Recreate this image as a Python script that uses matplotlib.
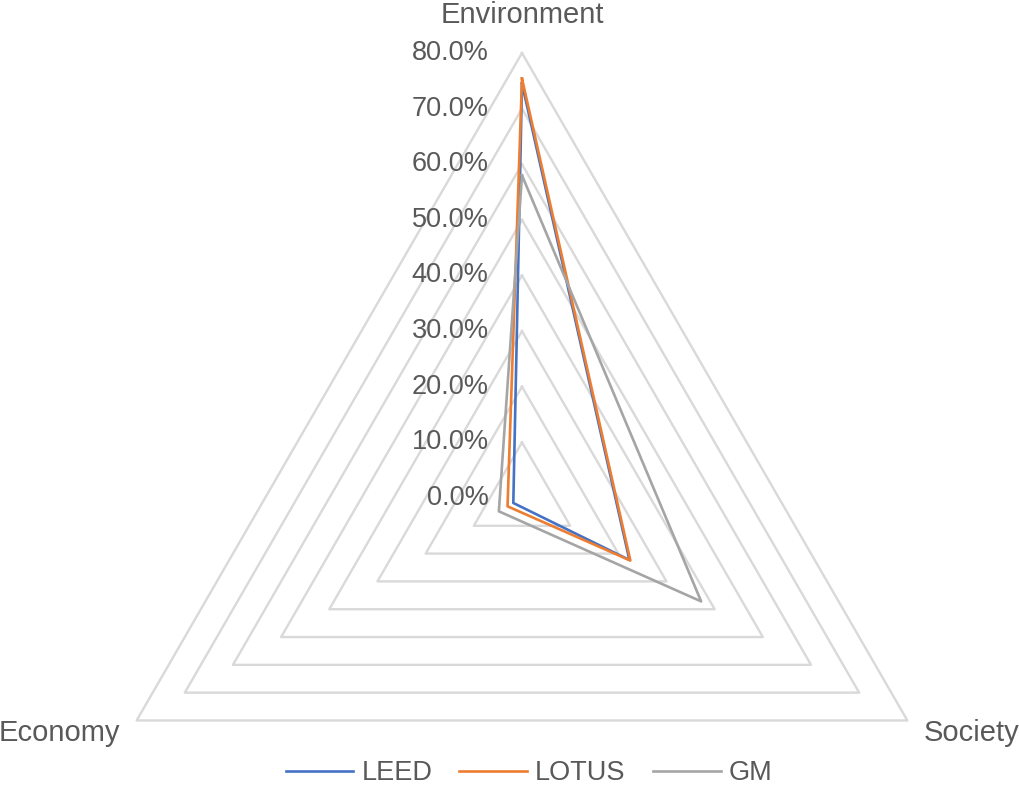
import numpy as np
import matplotlib
matplotlib.use('Agg')
import matplotlib.pyplot as plt

plt.rcParams['font.family'] = ['Liberation Sans', 'DejaVu Sans']

categories = ['Environment', 'Society', 'Economy']
leed = [74.5, 22.3, 1.8]
lotus = [75.4, 22.5, 3.0]
gm = [58.0, 37.2, 4.8]
ring_levels = [10, 20, 30, 40, 50, 60, 70, 80]
tick_levels = [0, 10, 20, 30, 40, 50, 60, 70, 80]

txt = '#595959'
fs = 19.5
fs_cat = 21

fig = plt.figure(figsize=(10.2, 7.87), dpi=100)
# polar axes sized so that 80% lands on the outer triangle
ax = fig.add_axes([0.0755, -0.1982, 0.8725, 1.1309], projection='polar')
ax.set_theta_offset(np.pi / 2)
ax.set_theta_direction(-1)
ax.set_ylim(0, 80)
ax.grid(False)
ax.set_xticks([])
ax.set_yticks([])
ax.spines['polar'].set_visible(False)
ax.patch.set_alpha(0)

theta = np.linspace(0, 2 * np.pi, len(categories), endpoint=False)
theta_c = np.append(theta, theta[0])

for lv in ring_levels:
    ax.plot(theta_c, [lv] * len(theta_c), color='#D9D9D9', lw=1.7, zorder=1, clip_on=False)

series = [('LEED', leed, '#4472C4'), ('LOTUS', lotus, '#ED7D31'), ('GM', gm, '#A5A5A5')]
handles = []
for name, vals, col in series:
    h, = ax.plot(theta_c, vals + vals[:1], color=col, lw=1.9, zorder=3, label=name)
    handles.append(h)

for lv in tick_levels:
    ax.annotate('%.1f%%' % lv, xy=(0, lv), xytext=(-24, 0), textcoords='offset points',
                ha='right', va='center', fontsize=fs, color=txt, annotation_clip=False)

ax.annotate(categories[0], xy=(theta[0], 80), xytext=(0, 27), textcoords='offset points',
            ha='center', va='center', fontsize=fs_cat, color=txt, annotation_clip=False)
ax.annotate(categories[1], xy=(theta[1], 80), xytext=(12, -9), textcoords='offset points',
            ha='left', va='center', fontsize=fs_cat, color=txt, annotation_clip=False)
ax.annotate(categories[2], xy=(theta[2], 80), xytext=(-12, -9), textcoords='offset points',
            ha='right', va='center', fontsize=fs_cat, color=txt, annotation_clip=False)

leg = fig.legend(handles=handles, loc='center', bbox_to_anchor=(529 / 1020, 1 - 773 / 787),
                 ncol=3, frameon=False, fontsize=fs, handlelength=2.5, handletextpad=0.3,
                 columnspacing=1.0)
for t in leg.get_texts():
    t.set_color(txt)

fig.savefig('out.png', dpi=100)
